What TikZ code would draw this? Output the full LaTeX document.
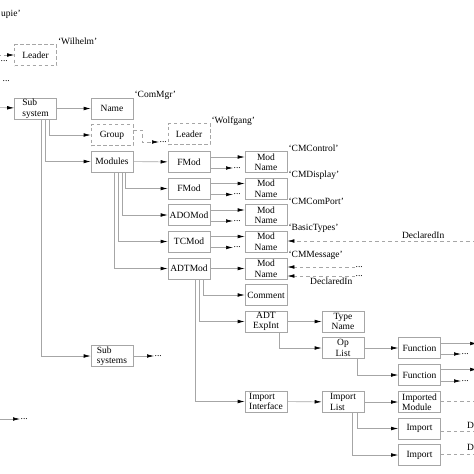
\documentclass[tikz,border=0pt]{standalone}
\usepackage{fontspec}
\setmainfont{Liberation Serif}
\usetikzlibrary{positioning,arrows.meta}
\tikzset{box/.style={draw=gray!70,line width=0.6pt,minimum width=42pt,minimum height=21pt,inner sep=1pt,align=center},
            lbox/.style={box,align=left},
            dbox/.style={box,dashed,dash pattern=on 3.5pt off 2.5pt},
            lab/.style={inner sep=1pt},
            dots/.style={inner sep=0.5pt,anchor=west},
            conn/.style={draw=gray!70,line width=0.6pt,-{Latex[length=7pt,width=3.6pt,color=black]}},
            dconn/.style={conn,dash pattern=on 3.5pt off 3pt},
            dline/.style={draw=gray!70,line width=0.6pt,dash pattern=on 3.5pt off 3pt}}

\begin{document}
\begin{tikzpicture}[x=1pt,y=-1pt,font=\fontsize{9.5}{10.5}\selectfont]
\useasboundingbox (0,0) rectangle (474,474);
\node[lab,anchor=base west] at (0,16.5)(top){upie'};
\node[dbox] at (35.5,55)(leadA){Leader};
\node[lab,anchor=base west] at (leadA.north east)(wil){`Wilhelm'};
\node[dots] at (0,61)(lA){...};
\node[dots] at (2,81)(lB){...};
\node[lbox] at (35.5,108.5)(sub){Sub\\system};
\node[box] at (112,108.5)(name){Name};
\node[lab,anchor=base west] at (name.north east)(cmgr){`ComMgr'};
\node[dbox] at (112,135)(group){Group};
\node[dots] at (159,142)(gd){...};
\node[dbox] at (189,134)(leadB){Leader};
\node[lab,anchor=base west] at (leadB.north east)(wolf){`Wolfgang'};
\node[box] at (112,161.5)(mods){Modules};
\node[lbox] at (112,356)(subs){Sub\\systems};
\node[dots] at (154,356)(sd){...};
\node[dots] at (20,419)(bd){...};
\coordinate (lL) at (-3,55);
\coordinate (lS) at (-3,107.5);
\coordinate (lD) at (-3,419);

% modules
\node[box] at (189,162)(fmodA){FMod};
\node[box] at (189,188.5)(fmodB){FMod};
\node[box] at (189,215)(adomod){ADOMod};
\node[box] at (189,241.5)(tcmod){TCMod};
\node[box] at (189,268.5)(adtmod){ADTMod};
\node[box] at (266,162)(mnA){Mod\\Name};
\node[box] at (266,188.5)(mnB){Mod\\Name};
\node[box] at (266,215)(mnC){Mod\\Name};
\node[box] at (266,241.5)(mnD){Mod\\Name};
\node[box] at (266,268.5)(mnE){Mod\\Name};
\node[lab,anchor=base west] at (mnA.north east){`CMControl'};
\node[lab,anchor=base west] at (mnB.north east){`CMDisplay'};
\node[lab,anchor=base west] at (mnC.north east){`CMComPort'};
\node[lab,anchor=base west] at (mnD.north east){`BasicTypes'};
\node[lab,anchor=base west] at (mnE.north east){`CMMessage'};
\node[dots] at (233,168)(dA){...};
\node[dots] at (233,194.5)(dB){...};
\node[dots] at (233,221)(dC){...};
\node[dots] at (233,247.5)(dD){...};
\node[dots] at (355,267)(eA){...};
\node[dots] at (355,276)(eB){...};
\coordinate (rD) at (476,241);

% ADT module
\node[box] at (266,295)(comment){Comment};
\node[box] at (266,321.5)(adtexp){ADT\\ExpInt};
\node[lbox] at (266,401.5)(impint){Import\\Interface};
\node[box] at (343,321.5)(tname){Type\\Name};
\node[box] at (343,348)(oplist){Op\\List};
\node[lbox] at (343,402)(implist){Import\\List};
\node[box] at (419.5,348)(funcA){Function};
\node[box] at (419.5,375)(funcB){Function};
\node[lbox] at (419.5,402)(impmod){Imported\\Module};
\node[box] at (419.5,428.5)(impA){Import};
\node[box] at (419.5,455)(impB){Import};
\node[dots] at (461,354)(hA){...};
\node[dots] at (461,381)(hB){...};
\coordinate (fA) at (477,343.5);
\coordinate (fB) at (477,369.5);
\coordinate (iM) at (476,401);
\coordinate (iA) at (476,431);
\coordinate (iB) at (476,454);
\node[lab,anchor=base west] at (466,428)(declA){D};
\node[lab,anchor=base west] at (466,450)(declB){D};

\draw[dconn] (lL) -- (leadA);
\draw[conn] (lS) -- (sub);
\draw[conn] (lD) -- (bd);
\draw[conn] (sub) -- (name);
\draw[conn] ([xshift=13.5pt]sub.south) |- (group);
\draw[conn] ([xshift=9.5pt]sub.south) |- (mods);
\draw[conn] ([xshift=6pt]sub.south) |- (subs);
\draw[conn] (subs) -- (sd);
\draw[dconn] ([yshift=5pt]group.east) -- ++(9,0) |- (gd);
\draw[conn] (mods) -- (fmodA);
\draw[conn] ([xshift=13pt]mods.south) |- (fmodB);
\draw[conn] ([xshift=10pt]mods.south) |- (adomod);
\draw[conn] ([xshift=6pt]mods.south) |- (tcmod);
\draw[conn] ([xshift=2pt]mods.south) |- (adtmod);
\draw[conn] ([yshift=5pt]fmodA.east) -- ([yshift=5pt]mnA.west);
\draw[conn] ([yshift=5pt]fmodB.east) -- ([yshift=5pt]mnB.west);
\draw[conn] ([yshift=5pt]adomod.east) -- ([yshift=5pt]mnC.west);
\draw[conn] ([yshift=5pt]tcmod.east) -- ([yshift=5pt]mnD.west);
\draw[conn] (dA -| fmodA.east) -- (dA);
\draw[conn] (dB -| fmodB.east) -- (dB);
\draw[conn] (dC -| adomod.east) -- (dC);
\draw[conn] (dD -| tcmod.east) -- (dD);
\draw[conn] (adtmod) -- (mnE);
\draw[dconn] (rD) -- (rD -| mnD.east) node[pos=0.28,above,inner sep=2pt]{DeclaredIn};
\draw[dconn] (eA) -- (eA -| mnE.east);
\draw[dconn] (eB) -- (eB -| mnE.east) node[pos=0.35,below,inner sep=1.5pt]{DeclaredIn};
\draw[conn] ([xshift=14pt]adtmod.south) |- (comment);
\draw[conn] ([xshift=10pt]adtmod.south) |- (adtexp);
\draw[conn] ([xshift=6pt]adtmod.south) |- (impint);
\draw[conn] (adtexp) -- (tname);
\draw[conn] ([xshift=13pt]adtexp.south) |- (oplist);
\draw[conn] (oplist) -- (funcA);
\draw[conn] ([xshift=14pt]oplist.south) |- (funcB);
\draw[conn] (fA -| funcA.east) -- (fA);
\draw[conn] (hA -| funcA.east) -- (hA);
\draw[conn] (fB -| funcB.east) -- (fB);
\draw[conn] (hB -| funcB.east) -- (hB);
\draw[conn] (impint) -- (implist);
\draw[conn] (implist) -- (impmod);
\draw[conn] ([xshift=14pt]implist.south) |- (impA);
\draw[conn] ([xshift=9pt]implist.south) |- (impB);
\draw[dline] (iM -| impmod.east) -- (iM);
\draw[dline] (iA -| impA.east) -- (iA);
\draw[dline] (iB -| impB.east) -- (iB);
\end{tikzpicture}
\end{document}
